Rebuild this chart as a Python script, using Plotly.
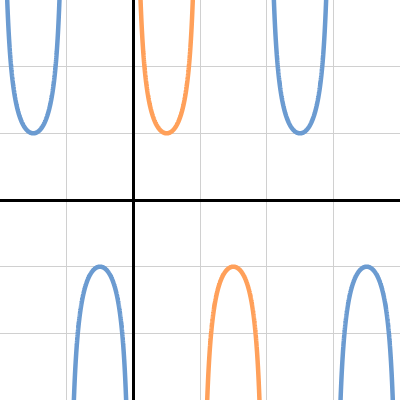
import numpy as np
import plotly.graph_objects as go

# branches of y = csc(pi x): (start, end, colour)
branch_starts = [-2, -1, 0, 1, 2, 3]
branch_ends = [-1, 0, 1, 2, 3, 4]
branch_colors = ["#6b9bd1", "#6b9bd1", "#ffa05a", "#ffa05a", "#6b9bd1", "#6b9bd1"]
x_range = [-2, 4]
y_range = [-3, 3]

fig = go.Figure()
for a, b, c in zip(branch_starts, branch_ends, branch_colors):
    x = np.linspace(a + 0.02, b - 0.02, 2000)
    y = 1 / np.sin(np.pi * x)
    fig.add_trace(go.Scatter(x=x, y=y, mode="lines",
                             line=dict(color=c, width=4.5, simplify=False),
                             hoverinfo="skip", showlegend=False))

axis = dict(showgrid=True, gridcolor="#d0d0d0", gridwidth=1, dtick=1,
            zeroline=True, zerolinecolor="black", zerolinewidth=2.5,
            showticklabels=False, ticks="", showline=False, fixedrange=True)
fig.update_layout(width=400, height=400, margin=dict(l=0, r=0, t=0, b=0, pad=0),
                  plot_bgcolor="white", paper_bgcolor="white",
                  xaxis=dict(range=x_range, **axis), yaxis=dict(range=y_range, **axis))
fig.write_html("out.html", config={"displayModeBar": False},
               post_script="document.body.style.margin='0';document.body.style.overflow='hidden';")
